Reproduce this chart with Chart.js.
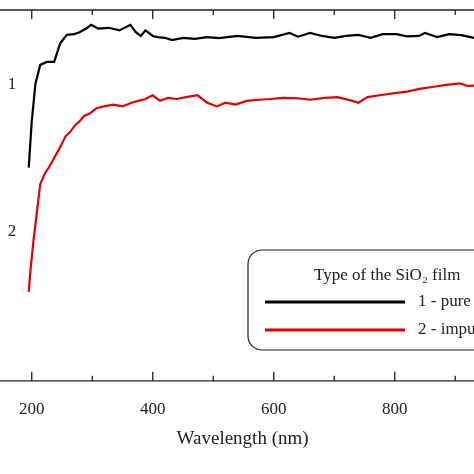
<!DOCTYPE html>
<html>
<head>
<meta charset="utf-8">
<script src="https://cdn.jsdelivr.net/npm/chart.js@4/dist/chart.umd.min.js"></script>
<style>
  html, body { margin: 0; padding: 0; background: #fff; }
  #wrap { width: 474px; height: 474px; }
</style>
</head>
<body>
<div id="wrap"><canvas id="c"></canvas></div>
<script>
// Datos (unidades arbitrarias en y)
const blackWl = [195,200,206,214,225,237,247,258,270,279,290,298,310,327,345,363,372,380,388,400,408,420,432,450,470,489,510,540,570,600,626,640,660,680,700,720,740,760,780,803,820,840,850,870,890,910,931];
const blackVal = [57.5,70,80,85.2,86,86,91,93.3,93.5,94,95,96,95,95.2,94.5,96,94,93,94.5,93,92.7,92.5,91.9,92.5,92.2,92.7,92.4,93,92.5,92.7,93.8,92.8,93.8,93,92.5,93,93.3,92.5,93.5,93.5,92.9,93,93.8,92.7,93.5,93.2,92.5];
const redWl = [195,198,203,214,222,230,240,247,256,263,272,279,287,295,307,319,335,350,365,376,388,400,412,425,440,455,474,490,506,520,537,555,575,595,615,640,660,685,705,730,740,755,775,800,820,843,865,885,908,920,931];
const redVal = [24,30,38,53,56,58,61,63,66,67,69,70,71.5,72,73.5,74,74.5,74,75,75.5,76,77,75.5,76.3,76,76.5,77,75,74,75,74.5,75.5,75.8,76,76.3,76.2,75.8,76.3,76.5,75.5,75,76.5,77,77.6,78,78.8,79.3,79.8,80.2,79.5,79.6];
const xTicksMajor = [200,400,600,800];

const boxAndMarks = {
  id: 'boxAndMarks',
  afterDraw(chart) {
    const {ctx, chartArea: a, scales: {x}} = chart;
    ctx.save();
    ctx.strokeStyle = '#222';
    ctx.lineWidth = 1.3;
    ctx.beginPath();
    ctx.moveTo(0, a.top); ctx.lineTo(474, a.top);
    ctx.moveTo(0, a.bottom); ctx.lineTo(474, a.bottom);
    for (let v = 200; v <= 900; v += 100) {
      const px = x.getPixelForValue(v);
      const len = v % 200 === 0 ? 9 : 5;
      ctx.moveTo(px, a.bottom); ctx.lineTo(px, a.bottom - len);
      ctx.moveTo(px, a.top); ctx.lineTo(px, a.top + len);
    }
    ctx.stroke();
    ctx.fillStyle = '#222';
    ctx.font = '17px "Liberation Serif"';
    ctx.textAlign = 'center';
    ctx.textBaseline = 'middle';
    ctx.fillText('1', 12, 85);
    ctx.fillText('2', 12, 232);
    // leyenda
    const lx = 248, ly = 250, lw = 260, lh = 100, r = 14;
    ctx.fillStyle = '#fff';
    ctx.beginPath();
    ctx.roundRect(lx, ly, lw, lh, r);
    ctx.fill();
    ctx.lineWidth = 1.2;
    ctx.stroke();
    ctx.fillStyle = '#222';
    ctx.textAlign = 'left';
    ctx.fillText('Type of the SiO\u2082 film', 314, 276);
    ctx.lineWidth = 3;
    ctx.strokeStyle = '#000';
    ctx.beginPath(); ctx.moveTo(265, 302); ctx.lineTo(405, 302); ctx.stroke();
    ctx.strokeStyle = '#e00000';
    ctx.beginPath(); ctx.moveTo(265, 330); ctx.lineTo(405, 330); ctx.stroke();
    ctx.fillText('1 - pure', 418, 302);
    ctx.fillText('2 - impure', 418, 330);
    ctx.restore();
  }
};

new Chart(document.getElementById('c'), {
  type: 'line',
  data: {
    datasets: [
      { data: blackWl.map((w, i) => ({x: w, y: blackVal[i]})), borderColor: '#000', borderWidth: 2.2, pointRadius: 0, tension: 0 },
      { data: redWl.map((w, i) => ({x: w, y: redVal[i]})), borderColor: '#e00000', borderWidth: 2.2, pointRadius: 0, tension: 0 }
    ]
  },
  options: {
    responsive: true,
    maintainAspectRatio: false,
    animation: false,
    layout: { padding: { top: 10, left: 0, right: 0, bottom: 20 } },
    plugins: { legend: { display: false }, tooltip: { enabled: false } },
    scales: {
      x: {
        type: 'linear', min: 166, max: 931,
        grid: { display: false, drawTicks: false },
        border: { display: false },
        afterBuildTicks: s => { s.ticks = xTicksMajor.map(v => ({value: v})); },
        ticks: { padding: 19, color: '#222', autoSkip: false, maxRotation: 0, font: { family: 'Liberation Serif', size: 17 } },
        title: { display: true, text: 'Wavelength (nm)', color: '#222', padding: { top: -12 }, font: { family: 'Liberation Serif', size: 19 } }
      },
      y: { display: false, min: 0, max: 100 }
    }
  },
  plugins: [boxAndMarks]
});
</script>
</body>
</html>
